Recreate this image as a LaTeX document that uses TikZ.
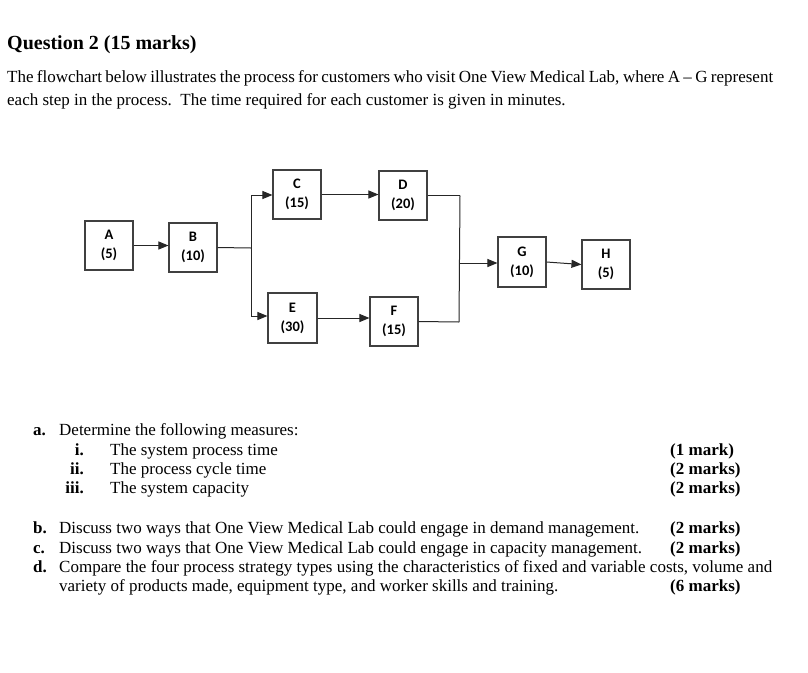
\documentclass[tikz,border=0pt]{standalone}
\usepackage{fontspec}
\setmainfont{Liberation Serif}
\newfontfamily\boxfont{Carlito}
\usetikzlibrary{arrows.meta}
\tikzset{
  stepbox/.style={draw=black!75, line width=1.1pt, minimum width=48pt, minimum height=49pt, inner sep=0pt, align=center, font=\boxfont\bfseries\fontsize{14.5}{19}\selectfont},
  link/.style={draw=black!85, line width=1pt},
  arr/.style={link, -{Triangle[length=10pt,width=8pt]}},
  txt/.style={anchor=base west, inner sep=0pt, font=\fontsize{17}{19}\selectfont},
  btxt/.style={txt, font=\fontsize{17}{19}\selectfont\bfseries},
  rtxt/.style={anchor=base east, inner sep=0pt, font=\fontsize{17}{19}\selectfont\bfseries}
}
\begin{document}
\begin{tikzpicture}[x=1pt,y=-1pt]
\useasboundingbox[fill=white] (0,0) rectangle (808,672);
% header
\node[txt, font=\fontsize{20}{22}\selectfont\bfseries] (title) at (7,49) {Question 2 (15 marks)};
\node[txt] (l1) at (7,82) {\makebox[766pt][s]{The flowchart below illustrates the process for customers who visit One View Medical Lab, where A -- G represent}};
\node[txt] (l2) at (7,105) {each step in the process.\ \ The time required for each customer is given in minutes.};
% flowchart
\node[stepbox] (A) at (109,245.5) {A\\(5)};
\node[stepbox] (B) at (193,247.5) {B\\(10)};
\node[stepbox] (C) at (297,194.5) {C\\(15)};
\node[stepbox, minimum width=49pt, minimum height=50pt] (E) at (292.5,318) {E\\(30)};
\node[stepbox] (D) at (403,195.5) {D\\(20)};
\node[stepbox] (F) at (394,321.5) {F\\(15)};
\node[stepbox, minimum height=50pt] (G) at (522,262) {G\\(10)};
\node[stepbox] (H) at (606,264.5) {H\\(5)};
\coordinate (j1) at (251,248);
\coordinate (j1t) at (251,195);
\coordinate (j1b) at (251,316);
\coordinate (j2t) at (460,195.5);
\coordinate (j2b) at (459,322);
\coordinate (j2m) at (460,263);
\draw[arr] (A.east) -- (A.east -| B.west);
\draw[link] (B.east) -- (j1);
\draw[link] (j1t) -- (j1b);
\draw[arr] (j1t) -- (j1t -| C.west);
\draw[arr] (j1b) -- (j1b -| E.west);
\draw[arr] (C.east) -- (C.east -| D.west);
\draw[arr] (E.east) -- (E.east -| F.west);
\draw[link] (D.east) -- (j2t);
\draw[link] (F.east) -- (j2b);
\draw[link] (j2t) -- (j2b);
\draw[arr] (j2m) -- (j2m -| G.west);
\draw[arr] (G.east) -- (H.west);
% questions
\node[btxt] (qa) at (33,435) {a.};
\node[txt] (qat) at (59,435) {Determine the following measures:};
\node[rtxt] (qi) at (84,455) {i.};
\node[txt] (qit) at (110,455) {The system process time};
\node[rtxt] (qii) at (84,474) {ii.};
\node[txt] (qiit) at (110,474) {The process cycle time};
\node[rtxt] (qiii) at (84,493) {iii.};
\node[txt] (qiiit) at (110,493) {The system capacity};
\node[btxt] (mi) at (670,455) {(1 mark)};
\node[btxt] (mii) at (670,474) {(2 marks)};
\node[btxt] (miii) at (670,493) {(2 marks)};
\node[btxt] (qb) at (33,533) {b.};
\node[txt] (qbt) at (59,533) {Discuss two ways that One View Medical Lab could engage in demand management.};
\node[btxt] (mb) at (670,533) {(2 marks)};
\node[btxt] (qc) at (33,553) {c.};
\node[txt] (qct) at (59,553) {Discuss two ways that One View Medical Lab could engage in capacity management.};
\node[btxt] (mc) at (670,553) {(2 marks)};
\node[btxt] (qd) at (33,572) {d.};
\node[txt] (qdt) at (59,572) {\makebox[713pt][s]{Compare the four process strategy types using the characteristics of fixed and variable costs, volume and}};
\node[txt] (qdt2) at (59,591) {variety of products made, equipment type, and worker skills and training.};
\node[btxt] (md) at (670,591) {(6 marks)};
\end{tikzpicture}
\end{document}
